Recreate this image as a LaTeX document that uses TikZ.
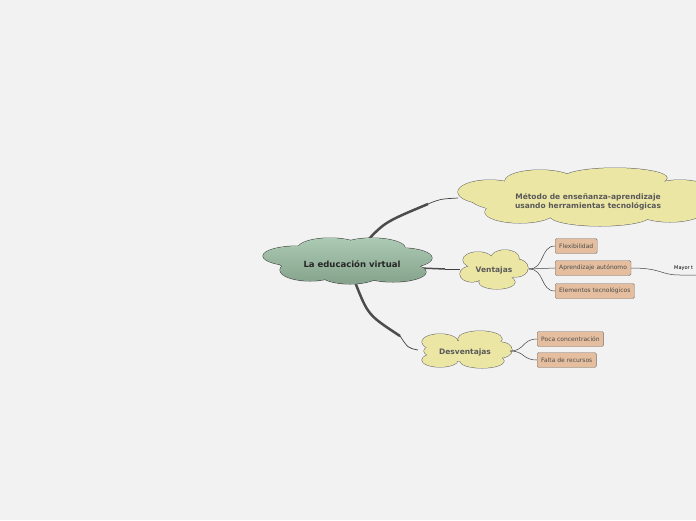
\documentclass[tikz,border=0pt]{standalone}
\usepackage{fontspec}
\setmainfont{DejaVu Sans}
\begin{document}
\begin{tikzpicture}[x=1pt,y=-1pt,
  lbl/.style={font=\bfseries\fontsize{7.5}{9}\selectfont,text=black!65,inner sep=1pt},
  leaf/.style={draw=black!55,fill={rgb,255:red,228;green,190;blue,158},rounded corners=1.5pt,font=\fontsize{6}{7}\selectfont,text=black!70,minimum height=15pt,inner xsep=4pt,anchor=west},
  br/.style={draw=black!75,line width=0.7pt},
  thk/.style={draw=black!70,line width=2.5pt}]
\useasboundingbox (0,0) rectangle (696,520);
\clip (0,0) rectangle (696,520);
\fill[black!5] (0,0) rectangle (696,520);
\definecolor{ylw}{RGB}{236,230,164}
\newcommand\mycloud[3]{%
  \foreach \x/\y/\a/\b in {#1} \draw[black!60,line width=1pt] (\x,\y) ellipse[x radius=\a,y radius=\b];
  \begin{scope}
  \clip \foreach \x/\y/\a/\b in {#1} {(\x,\y) ellipse[x radius=\a,y radius=\b]};
  \fill[#2] (#3) rectangle +(300,-80);
  \end{scope}}
% connectors
\coordinate (c1) at (366,242);
\coordinate (c2) at (355,282);
\coordinate (c3) at (420,268);
\coordinate (j1) at (428,204);
\coordinate (j2) at (400,336);
\draw[thk] (c1) .. controls (385,222) .. (j1);
\draw[br] (j1) .. controls (440,199) .. (458,198);
\draw[thk] (c2) .. controls (368,315) .. (j2);
\draw[br] (j2) .. controls (408,348) .. (418,350);
\draw[line width=1.5pt,black!70] (c3) -- (445,269);
\draw[br] (445,269) -- (460,269);
% clouds
\mycloud{348/262/70/12, 298/256/35/10, 330/248/32/10, 372/248/33/10, 402/258/30/10, 310/270/30/11, 350/274/30/10, 393/272/33/10}{top color={rgb,255:red,196;green,228;blue,204},bottom color={rgb,255:red,128;green,156;blue,134}}{250,290}
\mycloud{590/198/120/20, 490/192/32/12, 540/181/35/11, 615/178/52/10, 520/212/35/11, 600/216/50/10, 670/210/35/12, 680/190/30/10}{ylw}{440,240}
\mycloud{494/269/26/12, 478/260/15/8, 505/258/14/8, 472/274/12/8, 497/282/18/7, 516/268/12/9}{ylw}{440,300}
\mycloud{464/351/40/10, 440/342/18/8, 480/339/22/8, 440/360/18/7, 482/361/22/7, 500/350/12/8}{ylw}{400,380}
\node[lbl,text=black!85,font=\bfseries\fontsize{8.5}{10}\selectfont] (root) at (352,264) {La educación virtual};
\node[lbl,align=center] (m) at (588,202) {Método de enseñanza-aprendizaje\\usando herramientas tecnológicas};
\node[lbl] (v) at (494,270) {Ventajas};
\node[lbl] (d) at (465,352) {Desventajas};
\node[leaf] (f) at (555,246) {Flexibilidad};
\node[leaf] (a) at (555,268) {Aprendizaje autónomo};
\node[leaf] (e) at (555,291) {Elementos tecnológicos};
\node[leaf] (p) at (537,339) {Poca concentración};
\node[leaf] (fr) at (537,360) {Falta de recursos};
\node[anchor=west,font=\fontsize{5}{6}\selectfont,inner sep=0pt] (mt) at (674,268) {Mayor t};
\coordinate (vr) at (529,269);
\coordinate (dr) at (510,351);
\draw[br,line width=0.5pt] (vr) .. controls (545,269) and (540,246) .. (f.west);
\draw[br,line width=0.5pt] (vr) -- (a.west);
\draw[br,line width=0.5pt] (vr) .. controls (545,269) and (540,291) .. (e.west);
\draw[br,line width=0.5pt] (dr) .. controls (525,351) and (522,339) .. (p.west);
\draw[br,line width=0.5pt] (dr) .. controls (525,351) and (522,360) .. (fr.west);
\draw[br,line width=0.5pt] (a.east) .. controls (662,268) and (660,275) .. (680,275) -- (700,275);
\end{tikzpicture}
\end{document}
